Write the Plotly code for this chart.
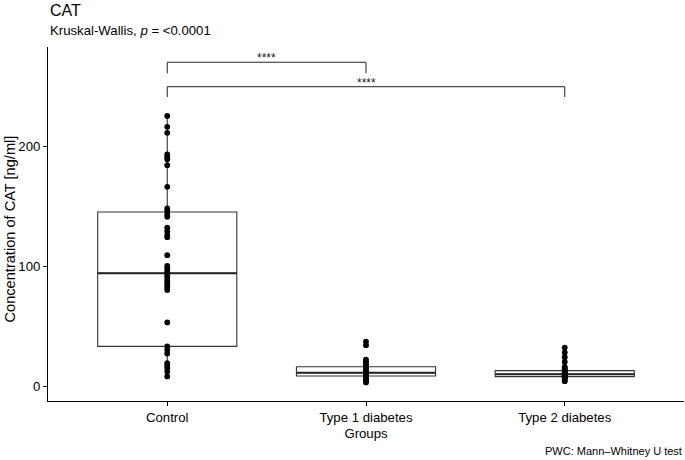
import plotly.graph_objects as go

# ---- data ----
groups = ["Control", "Type 1 diabetes", "Type 2 diabetes"]
group_pos = [1, 2, 3]

control_vals = [225, 216, 211, 193, 191, 189, 184, 166, 148, 146, 143, 141,
                132, 129, 126, 124, 109, 100, 98, 96, 94, 92, 90, 88, 86,
                84, 82, 80, 53, 33, 30, 27, 19, 17, 15, 12, 8]
t1_vals = [37, 34, 22, 20, 19, 18, 17, 16, 15, 14, 13, 12, 11, 10.5, 10,
           9.5, 9, 8.5, 8, 7, 6, 5, 4, 3]
t2_vals = [32, 28, 24, 20, 16, 15, 14, 13, 12, 11, 10.5, 10, 9.5, 9, 8.5,
           8, 7.5, 7, 6, 5, 4]

# box summaries
q1 = [33, 8.3, 7.8]
median = [94, 11, 9.7]
q3 = [145, 16, 12.8]
lowerfence = [8, 3, 4]
upperfence = [225, 22, 20]

# pairwise comparisons (group index pairs), bracket heights and labels
pairs = [(1, 2), (1, 3)]
bracket_y = [269.8, 249.4]
bracket_tip = [9.2, 8.6]
pair_labels = ["****", "****"]

title = "CAT"
subtitle = "Kruskal-Wallis, <i>p</i> = <0.0001"
caption = "PWC: Mann\u2013Whitney U test"
y_title = "Concentration of CAT [ng/ml]"
x_title = "Groups"
y_ticks = [0, 100, 200]

FONT = "Liberation Sans, Arial, sans-serif"
BOXW = 0.7

fig = go.Figure()

fig.add_trace(go.Box(
    x=group_pos, q1=q1, median=median, q3=q3,
    lowerfence=lowerfence, upperfence=upperfence,
    width=BOXW, boxpoints=False, fillcolor="white",
    line=dict(color="#333333", width=1.1), whiskerwidth=0,
    showlegend=False, hoverinfo="skip"))

# thicker median line (ggplot fatten)
mx, my = [], []
for p, m in zip(group_pos, median):
    mx += [p - BOXW / 2, p + BOXW / 2, None]
    my += [m, m, None]
fig.add_trace(go.Scatter(x=mx, y=my, mode="lines",
                         line=dict(color="#222222", width=2),
                         showlegend=False, hoverinfo="skip"))

all_vals = [control_vals, t1_vals, t2_vals]
for p, vals in zip(group_pos, all_vals):
    fig.add_trace(go.Scatter(
        x=[p] * len(vals), y=vals, mode="markers",
        marker=dict(color="black", size=5.8),
        showlegend=False, hoverinfo="skip"))

# significance brackets
bx, by = [], []
for (a, b), yb, tip in zip(pairs, bracket_y, bracket_tip):
    bx += [a, a, b, b, None]
    by += [yb - tip, yb, yb, yb - tip, None]
fig.add_trace(go.Scatter(x=bx, y=by, mode="lines",
                         line=dict(color="#222222", width=1),
                         showlegend=False, hoverinfo="skip"))

annotations = []
for (a, b), yb, lab in zip(pairs, bracket_y, pair_labels):
    annotations.append(dict(x=(a + b) / 2, y=yb, xref="x", yref="y",
                            text=lab, showarrow=False, yanchor="bottom",
                            yshift=-5,
                            font=dict(family=FONT, size=12, color="#222222")))

annotations += [
    dict(x=0, y=1.102, xref="paper", yref="paper", text=title,
         showarrow=False, xanchor="left", yanchor="middle",
         font=dict(family=FONT, size=16, color="black")),
    dict(x=0, y=1.047, xref="paper", yref="paper", text=subtitle,
         showarrow=False, xanchor="left", yanchor="middle",
         font=dict(family=FONT, size=13.2, color="black")),
    dict(x=1.0, y=-0.141, xref="paper", yref="paper", text=caption,
         showarrow=False, xanchor="right", yanchor="middle",
         font=dict(family=FONT, size=11, color="black")),
    dict(x=-0.0605, y=0.486, xref="paper", yref="paper", text=y_title,
         showarrow=False, textangle=-90, xanchor="center", yanchor="middle",
         font=dict(family=FONT, size=14.6, color="black")),
]

fig.update_layout(
    width=685, height=460,
    margin=dict(l=48, r=1, t=47, b=59),
    plot_bgcolor="white", paper_bgcolor="white",
    font=dict(family=FONT, size=13.2, color="black"),
    annotations=annotations,
    xaxis=dict(range=[0.4, 3.6], tickvals=group_pos, ticktext=groups,
               showgrid=False, zeroline=False, showline=True,
               linecolor="black", linewidth=1, ticks="outside",
               ticklen=4, tickcolor="black",
               tickfont=dict(family=FONT, size=13.2, color="black"),
               title=dict(text=x_title, standoff=4,
                          font=dict(family=FONT, size=13.2, color="black"))),
    yaxis=dict(range=[-12.5, 282.5], tickvals=y_ticks,
               showgrid=False, zeroline=False, showline=True,
               linecolor="black", linewidth=1, ticks="outside",
               ticklen=4, tickcolor="black",
               tickfont=dict(family=FONT, size=13.2, color="black")),
)

fig.write_html("out.html")
